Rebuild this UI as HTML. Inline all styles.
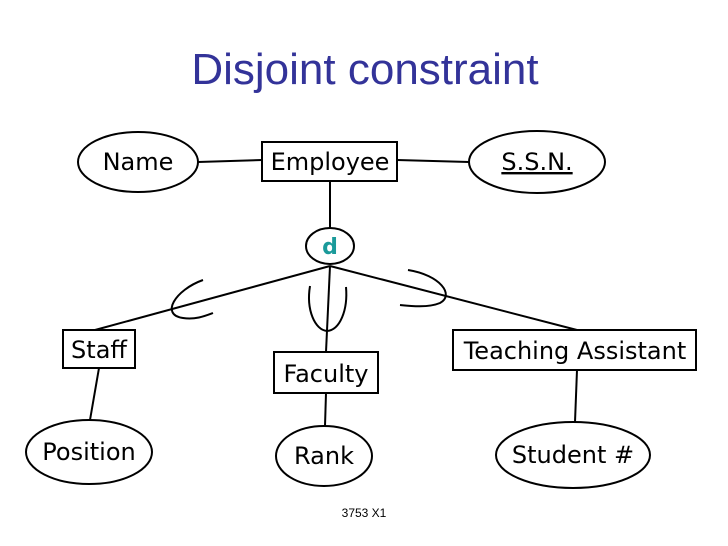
<!DOCTYPE html>
<html><head><style>body{margin:0;background:#fff}svg{display:block}</style></head><body>
<svg width="728" height="546" xmlns="http://www.w3.org/2000/svg" font-family="Liberation Sans, sans-serif">
<text x="365" y="84" text-anchor="middle" font-size="44" fill="#333399">Disjoint constraint</text>
<g stroke="#000" stroke-width="2" fill="none">
<line x1="198" y1="162" x2="262" y2="160"/>
<line x1="397" y1="160" x2="469" y2="162"/>
<line x1="330" y1="181" x2="330" y2="229"/>
<line x1="330" y1="266" x2="95" y2="330"/>
<line x1="330" y1="266" x2="326" y2="352"/>
<line x1="330" y1="266" x2="577" y2="330"/>
<line x1="99" y1="368" x2="90" y2="420"/>
<line x1="326" y1="393" x2="325" y2="426"/>
<line x1="577" y1="370" x2="575" y2="422"/>
<path d="M203,280 C175,290 160,315 183,318 C195,320 205,316 213,313"/>
<path d="M310,286 C306,310 315,330 327,331 C340,330 348,310 346,287"/>
<path d="M408,270 C440,275 455,295 440,303 C428,308 410,306 400,305"/>
<rect x="262" y="142" width="135" height="39" fill="#fff"/>
<rect x="63" y="330" width="72" height="38" fill="#fff"/>
<rect x="274" y="352" width="104" height="41" fill="#fff"/>
<rect x="453" y="330" width="243" height="40" fill="#fff"/>
<ellipse cx="138" cy="162" rx="60" ry="30" fill="#fff"/>
<ellipse cx="537" cy="162" rx="68" ry="31" fill="#fff"/>
<ellipse cx="330" cy="246" rx="24" ry="18" fill="#fff"/>
<ellipse cx="89" cy="452" rx="63" ry="32" fill="#fff"/>
<ellipse cx="324" cy="456" rx="48" ry="30" fill="#fff"/>
<ellipse cx="573" cy="455" rx="77" ry="33" fill="#fff"/>
</g>
<g font-size="24" text-anchor="middle" fill="#000" font-family="DejaVu Sans, sans-serif">
<text x="138" y="170">Name</text>
<text x="330" y="170">Employee</text>
<text x="537" y="170" text-decoration="underline">S.S.N.</text>
<text x="99" y="358">Staff</text>
<text x="326" y="382">Faculty</text>
<text x="575" y="359">Teaching Assistant</text>
<text x="89" y="460">Position</text>
<text x="324" y="464">Rank</text>
<text x="573" y="463">Student #</text>
</g>
<text x="330" y="254" text-anchor="middle" font-size="22" font-weight="bold" fill="#1a9a9a" font-family="DejaVu Sans, sans-serif">d</text>
<text x="364" y="517" text-anchor="middle" font-size="12">3753 X1</text>
</svg>
</body></html>
